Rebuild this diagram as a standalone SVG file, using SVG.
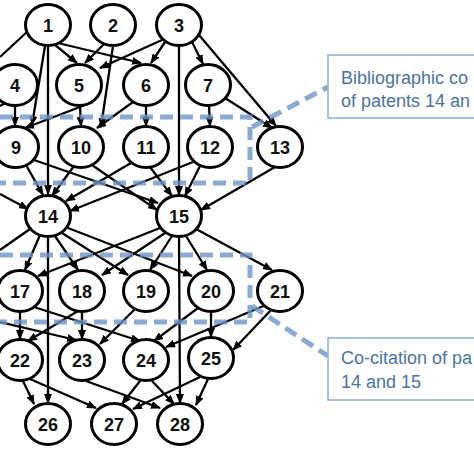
<svg xmlns="http://www.w3.org/2000/svg" width="474" height="474" viewBox="0 0 474 474">
<style>
.e{stroke:#000;stroke-width:2.3;fill:none;marker-end:url(#a)}
.p{stroke:#000;stroke-width:2.3;fill:none}
.n ellipse{fill:#fff;stroke:#000;stroke-width:3}
.n text{font-family:"Liberation Sans",Arial,sans-serif;font-weight:bold;font-size:18px;text-anchor:middle;fill:#111}
.d{stroke:#6d93c8;stroke-width:5;fill:none;stroke-dasharray:13 7;opacity:0.8}
.b{fill:#fff;stroke:#8eabd1;stroke-width:1.5}
.t{font-family:"Liberation Sans",Arial,sans-serif;font-size:18px;fill:#4b72a5}
</style>
<defs>
<marker id="a" markerUnits="userSpaceOnUse" markerWidth="10" markerHeight="8" refX="9" refY="4" orient="auto">
<path d="M0,0 L10,4 L0,8 z" fill="#000"/>
</marker>
</defs>
<rect width="474" height="474" fill="#fff"/>
<g id="connectors">
<line class="e" x1="54" y1="44" x2="77" y2="63"/>
<line class="e" x1="58" y1="43" x2="141" y2="63"/>
<line class="e" x1="45" y1="46" x2="32" y2="125"/>
<line class="e" x1="48" y1="46" x2="48" y2="194"/>
<line class="p" x1="28" y1="31" x2="0" y2="57"/>
<line class="e" x1="105" y1="43" x2="85" y2="63"/>
<line class="e" x1="113" y1="46" x2="101" y2="127"/>
<line class="e" x1="162" y1="40" x2="100" y2="68"/>
<line class="e" x1="165" y1="42" x2="151" y2="63"/>
<line class="e" x1="192" y1="42" x2="203" y2="64"/>
<line class="e" x1="199" y1="35" x2="276" y2="126"/>
<line class="e" x1="179" y1="46" x2="179" y2="195"/>
<line class="e" x1="15" y1="106" x2="15" y2="126"/>
<line class="p" x1="5" y1="103" x2="0" y2="106"/>
<line class="e" x1="93" y1="102" x2="25" y2="128"/>
<line class="e" x1="80" y1="106" x2="81" y2="126"/>
<line class="e" x1="133" y1="102" x2="97" y2="128"/>
<line class="e" x1="146" y1="106" x2="146" y2="126"/>
<line class="e" x1="209" y1="106" x2="210" y2="126"/>
<line class="e" x1="225" y1="98" x2="272" y2="128"/>
<line class="e" x1="26" y1="165" x2="43" y2="195"/>
<line class="e" x1="34" y1="160" x2="158" y2="203"/>
<line class="e" x1="74" y1="166" x2="52" y2="196"/>
<line class="e" x1="92" y1="165" x2="157" y2="210"/>
<line class="e" x1="131" y1="163" x2="66" y2="201"/>
<line class="e" x1="150" y1="167" x2="172" y2="196"/>
<line class="e" x1="193" y1="162" x2="70" y2="211"/>
<line class="e" x1="200" y1="166" x2="185" y2="196"/>
<line class="e" x1="275" y1="167" x2="201" y2="210"/>
<line class="e" x1="0" y1="194" x2="28" y2="209"/>
<line class="e" x1="40" y1="235" x2="25" y2="270"/>
<line class="e" x1="55" y1="236" x2="78" y2="270"/>
<line class="e" x1="62" y1="233" x2="128" y2="275"/>
<line class="e" x1="68" y1="228" x2="192" y2="276"/>
<line class="p" x1="30" y1="229" x2="0" y2="250"/>
<line class="e" x1="48" y1="237" x2="48" y2="403"/>
<line class="e" x1="160" y1="228" x2="38" y2="276"/>
<line class="e" x1="165" y1="233" x2="102" y2="275"/>
<line class="e" x1="172" y1="236" x2="150" y2="270"/>
<line class="e" x1="186" y1="236" x2="207" y2="270"/>
<line class="e" x1="196" y1="229" x2="272" y2="270"/>
<line class="e" x1="179" y1="237" x2="180" y2="403"/>
<line class="e" x1="20" y1="312" x2="20" y2="339"/>
<line class="e" x1="34" y1="307" x2="140" y2="341"/>
<line class="e" x1="78" y1="311" x2="28" y2="341"/>
<line class="e" x1="0" y1="322" x2="76" y2="340"/>
<line class="e" x1="82" y1="312" x2="82" y2="339"/>
<line class="e" x1="135" y1="309" x2="100" y2="344"/>
<line class="e" x1="198" y1="308" x2="154" y2="341"/>
<line class="e" x1="211" y1="312" x2="211" y2="337"/>
<line class="e" x1="266" y1="305" x2="166" y2="347"/>
<line class="e" x1="272" y1="309" x2="233" y2="350"/>
<line class="e" x1="23" y1="381" x2="34" y2="404"/>
<line class="e" x1="30" y1="379" x2="96" y2="408"/>
<line class="e" x1="86" y1="381" x2="160" y2="408"/>
<line class="e" x1="140" y1="381" x2="122" y2="404"/>
<line class="e" x1="152" y1="381" x2="174" y2="404"/>
<line class="e" x1="200" y1="377" x2="133" y2="409"/>
<line class="e" x1="208" y1="379" x2="196" y2="405"/>
</g>
<g id="groups">
<path class="d" d="M0,117 H250 V183 H0"/>
<path class="d" d="M252,127 L328,87"/>
<path class="d" d="M0,255 H250 V322 H0"/>
<path class="d" d="M252,306 L328,356"/>
</g>
<g id="n1" class="n"><ellipse cx="48" cy="25" rx="22.5" ry="20.5"/><text x="48" y="32">1</text></g>
<g id="n2" class="n"><ellipse cx="113" cy="25" rx="22.5" ry="20.5"/><text x="113" y="32">2</text></g>
<g id="n3" class="n"><ellipse cx="179" cy="25" rx="22.5" ry="20.5"/><text x="179" y="32">3</text></g>
<g id="n4" class="n"><ellipse cx="15" cy="85" rx="22.5" ry="20.5"/><text x="15" y="92">4</text></g>
<g id="n5" class="n"><ellipse cx="79" cy="85" rx="22.5" ry="20.5"/><text x="79" y="92">5</text></g>
<g id="n6" class="n"><ellipse cx="146" cy="85" rx="22.5" ry="20.5"/><text x="146" y="92">6</text></g>
<g id="n7" class="n"><ellipse cx="208" cy="85" rx="22.5" ry="20.5"/><text x="208" y="92">7</text></g>
<g id="n9" class="n"><ellipse cx="16" cy="147" rx="22.5" ry="20.5"/><text x="16" y="154">9</text></g>
<g id="n10" class="n"><ellipse cx="81" cy="147" rx="22.5" ry="20.5"/><text x="81" y="154">10</text></g>
<g id="n11" class="n"><ellipse cx="146" cy="147" rx="22.5" ry="20.5"/><text x="146" y="154">11</text></g>
<g id="n12" class="n"><ellipse cx="210" cy="147" rx="22.5" ry="20.5"/><text x="210" y="154">12</text></g>
<g id="n13" class="n"><ellipse cx="280" cy="147" rx="22.5" ry="20.5"/><text x="280" y="154">13</text></g>
<g id="n14" class="n"><ellipse cx="48" cy="216" rx="22.5" ry="20.5"/><text x="48" y="223">14</text></g>
<g id="n15" class="n"><ellipse cx="179" cy="216" rx="22.5" ry="20.5"/><text x="179" y="223">15</text></g>
<g id="n17" class="n"><ellipse cx="20" cy="291" rx="22.5" ry="20.5"/><text x="20" y="298">17</text></g>
<g id="n18" class="n"><ellipse cx="82" cy="291" rx="22.5" ry="20.5"/><text x="82" y="298">18</text></g>
<g id="n19" class="n"><ellipse cx="146" cy="291" rx="22.5" ry="20.5"/><text x="146" y="298">19</text></g>
<g id="n20" class="n"><ellipse cx="211" cy="291" rx="22.5" ry="20.5"/><text x="211" y="298">20</text></g>
<g id="n21" class="n"><ellipse cx="280" cy="291" rx="22.5" ry="20.5"/><text x="280" y="298">21</text></g>
<g id="n22" class="n"><ellipse cx="20" cy="360" rx="22.5" ry="20.5"/><text x="20" y="367">22</text></g>
<g id="n23" class="n"><ellipse cx="82" cy="360" rx="22.5" ry="20.5"/><text x="82" y="367">23</text></g>
<g id="n24" class="n"><ellipse cx="146" cy="360" rx="22.5" ry="20.5"/><text x="146" y="367">24</text></g>
<g id="n25" class="n"><ellipse cx="211" cy="358" rx="22.5" ry="20.5"/><text x="211" y="365">25</text></g>
<g id="n26" class="n"><ellipse cx="48" cy="424" rx="22.5" ry="20.5"/><text x="48" y="431">26</text></g>
<g id="n27" class="n"><ellipse cx="114" cy="424" rx="22.5" ry="20.5"/><text x="114" y="431">27</text></g>
<g id="n28" class="n"><ellipse cx="180" cy="424" rx="22.5" ry="20.5"/><text x="180" y="431">28</text></g>
<g id="label-bib">
<rect class="b" x="328" y="55" width="160" height="63"/>
<text class="t" x="341" y="84">Bibliographic co</text>
<text class="t" x="341" y="107">of patents 14 an</text>
</g>
<g id="label-cocit">
<rect class="b" x="328" y="338" width="160" height="62"/>
<text class="t" x="341" y="364">Co-citation of pa</text>
<text class="t" x="341" y="388">14 and 15</text>
</g>
</svg>
